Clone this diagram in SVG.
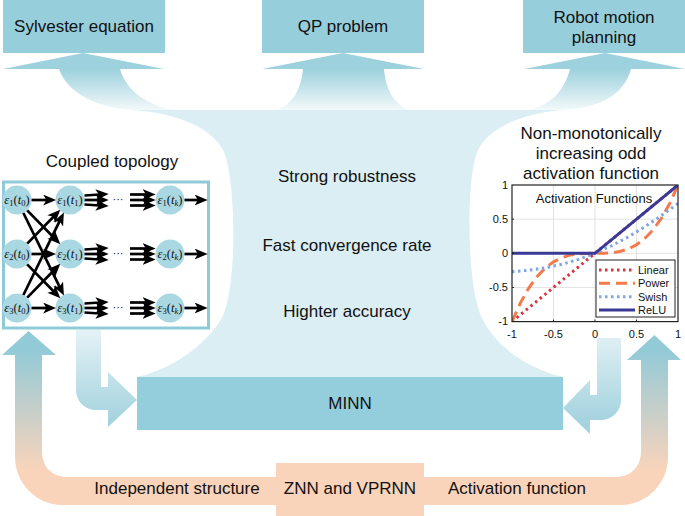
<svg xmlns="http://www.w3.org/2000/svg" width="685" height="516" viewBox="0 0 685 516">
<defs>
<style>
.t{font-family:"Liberation Sans",Arial,sans-serif;font-size:17px;fill:#111;text-anchor:middle}
.nl{font-family:"Liberation Serif","DejaVu Serif",serif;font-size:12.5px;fill:#111;text-anchor:middle}
.it{font-style:italic}
.sub{font-size:8.5px}
.tk{font-family:"Liberation Sans",Arial,sans-serif;font-size:11px;fill:#111}
.box{fill:#96cedc}
.node{fill:#a9d8e3}
.ar{stroke:#000;stroke-width:2.7;fill:none;marker-end:url(#ah)}
.grid{stroke:#dadada;stroke-width:0.8}
</style>
<marker id="ah" viewBox="0 0 12 10" refX="4" refY="5" markerWidth="13" markerHeight="11" markerUnits="userSpaceOnUse" orient="auto">
<path d="M0,0 L12,5 L0,10 L3,5 Z" fill="#000"/>
</marker>
<linearGradient id="stemG" gradientUnits="userSpaceOnUse" x1="0" y1="69" x2="0" y2="110">
<stop offset="0" stop-color="#9dd1dd"/><stop offset="1" stop-color="#f3f9fa"/>
</linearGradient>
<linearGradient id="loopG" gradientUnits="userSpaceOnUse" x1="0" y1="350" x2="0" y2="470">
<stop offset="0" stop-color="#93cad8"/><stop offset="1" stop-color="#f9d4bb"/>
</linearGradient>
<linearGradient id="sideG" gradientUnits="userSpaceOnUse" x1="0" y1="330" x2="0" y2="420">
<stop offset="0" stop-color="#e4f2f6"/><stop offset="1" stop-color="#a5d3df"/>
</linearGradient>
<clipPath id="plotClip"><rect x="512" y="185" width="166" height="136.6"/></clipPath>
</defs>

<g id="trunk">
<path d="M131,110 L563,110 C535,112 492,122 478,150 C466,175 466,285 482,318 C495,345 525,368 563,377 L137,377 C175,368 205,345 222,318 C238,285 236,175 223,150 C210,125 170,112 131,110 Z" fill="#dbeef4"/>
</g>

<g id="connectors">
<path d="M59,69 L120,69 C127,92 148,106 176,110 L133,110 C100,108 68,95 59,69 Z" fill="url(#stemG)"/>
<path d="M303,69 L384,69 C386,92 396,106 410,110 L276,110 C290,106 301,92 303,69 Z" fill="url(#stemG)"/>
<path d="M570,69 L631,69 C624,95 600,108 563,110 L527,110 C550,106 564,92 570,69 Z" fill="url(#stemG)"/>
<path d="M3,69 L164,69 L83,53 Z" fill="#9dd1dd"/>
<path d="M262,69 L424,69 L343,53 Z" fill="#9dd1dd"/>
<path d="M524,69 L685,69 L605,53 Z" fill="#9dd1dd"/>
<path d="M76,330 L101,330 L101,387 L108,387 L108,372 L137,400 L108,427 L108,410 L96,410 C85,410 76,401 76,390 Z" fill="url(#sideG)"/>
<path d="M621,338 L597,338 L597,395 L590,395 L590,380 L563,408 L590,434 L590,420 L601,420 C612,420 621,411 621,400 Z" fill="url(#sideG)"/>
<path d="M276,477 L68,477 C52,477 42,467 42,451 L42,355 L56,355 L28.5,331 L2,355 L15,355 L15,457 C15,483 36,505 62,505 L276,505 Z" fill="url(#loopG)"/>
<path d="M424,477 L615,477 C631,477 641,467 641,451 L641,360 L627,360 L654.5,335 L681,360 L668,360 L668,457 C668,483 647,505 621,505 L424,505 Z" fill="url(#loopG)"/>
</g>

<g id="sylvester"><rect class="box" x="3" y="0" width="162" height="53"/><text class="t" x="84" y="32">Sylvester equation</text></g>
<g id="qp"><rect class="box" x="262" y="0" width="162" height="53"/><text class="t" x="343" y="32">QP problem</text></g>
<g id="robot"><rect class="box" x="523" y="0" width="162" height="53"/><text class="t" x="604" y="23">Robot motion</text><text class="t" x="604" y="43">planning</text></g>

<g id="properties">
<text class="t" x="347" y="182">Strong robustness</text>
<text class="t" x="347" y="251">Fast convergence rate</text>
<text class="t" x="347" y="317">Highter accuracy</text>
</g>

<g id="minn"><rect x="137" y="377" width="426" height="53" fill="#94cddb"/><text class="t" x="350" y="409">MINN</text></g>
<g id="znn"><rect x="276" y="463" width="148" height="53" fill="#f9d4bb"/><text class="t" x="350" y="494">ZNN and VPRNN</text></g>
<g id="labels-bottom">
<text class="t" x="177" y="494">Independent structure</text>
<text class="t" x="517" y="494">Activation function</text>
</g>

<g id="coupled">
<text class="t" x="112" y="167">Coupled topology</text>
<rect x="3.5" y="182" width="205" height="146" fill="#fff" stroke="#8fcad8" stroke-width="3"/>
<g id="nodes">
<circle class="node" cx="17" cy="200" r="14.5"/><circle class="node" cx="17" cy="254" r="14.5"/><circle class="node" cx="17" cy="308" r="14.5"/>
<circle class="node" cx="70" cy="200" r="14.5"/><circle class="node" cx="70" cy="254" r="14.5"/><circle class="node" cx="70" cy="308" r="14.5"/>
<circle class="node" cx="170" cy="200" r="14.5"/><circle class="node" cx="170" cy="254" r="14.5"/><circle class="node" cx="170" cy="308" r="14.5"/>
</g>
<g id="topo-arrows">
<line class="ar" x1="31.5" y1="200" x2="47.5" y2="200"/>
<line class="ar" x1="27.2" y1="210.35" x2="54.24" y2="237.94"/>
<line class="ar" x1="23.4" y1="213" x2="60.09" y2="287.8"/>
<line class="ar" x1="27.2" y1="243.65" x2="54.24" y2="216.06"/>
<line class="ar" x1="31.5" y1="254" x2="47.5" y2="254"/>
<line class="ar" x1="27.2" y1="264.35" x2="54.24" y2="291.94"/>
<line class="ar" x1="23.4" y1="295" x2="60.09" y2="220.2"/>
<line class="ar" x1="27.2" y1="297.65" x2="54.24" y2="270.06"/>
<line class="ar" x1="31.5" y1="308" x2="47.5" y2="308"/>
<line class="ar" x1="84.5" y1="195.5" x2="100" y2="194.5"/><line class="ar" x1="84.5" y1="200" x2="100" y2="200"/><line class="ar" x1="84.5" y1="204.5" x2="100" y2="205.5"/>
<line class="ar" x1="84.5" y1="249.5" x2="100" y2="248.5"/><line class="ar" x1="84.5" y1="254" x2="100" y2="254"/><line class="ar" x1="84.5" y1="258.5" x2="100" y2="259.5"/>
<line class="ar" x1="84.5" y1="303.5" x2="100" y2="302.5"/><line class="ar" x1="84.5" y1="308" x2="100" y2="308"/><line class="ar" x1="84.5" y1="312.5" x2="100" y2="313.5"/>
<line class="ar" x1="130" y1="194.5" x2="147" y2="194.5"/><line class="ar" x1="130" y1="200" x2="147" y2="200"/><line class="ar" x1="130" y1="205.5" x2="147" y2="205.5"/>
<line class="ar" x1="130" y1="248.5" x2="147" y2="248.5"/><line class="ar" x1="130" y1="254" x2="147" y2="254"/><line class="ar" x1="130" y1="259.5" x2="147" y2="259.5"/>
<line class="ar" x1="130" y1="302.5" x2="147" y2="302.5"/><line class="ar" x1="130" y1="308" x2="147" y2="308"/><line class="ar" x1="130" y1="313.5" x2="147" y2="313.5"/>
<line class="ar" x1="184.5" y1="200" x2="199" y2="200"/>
<line class="ar" x1="184.5" y1="254" x2="199" y2="254"/>
<line class="ar" x1="184.5" y1="308" x2="199" y2="308"/>
</g>
<text class="tk" x="118" y="203" text-anchor="middle" fill="#444">···</text>
<text class="tk" x="118" y="257" text-anchor="middle" fill="#444">···</text>
<text class="tk" x="118" y="311" text-anchor="middle" fill="#444">···</text>
<g id="node-labels">
<text class="nl" x="17" y="204"><tspan class="it">ε</tspan><tspan class="sub" dy="2">1</tspan><tspan dy="-2">(</tspan><tspan class="it">t</tspan><tspan class="sub" dy="2">0</tspan><tspan dy="-2">)</tspan></text>
<text class="nl" x="17" y="258"><tspan class="it">ε</tspan><tspan class="sub" dy="2">2</tspan><tspan dy="-2">(</tspan><tspan class="it">t</tspan><tspan class="sub" dy="2">0</tspan><tspan dy="-2">)</tspan></text>
<text class="nl" x="17" y="312"><tspan class="it">ε</tspan><tspan class="sub" dy="2">3</tspan><tspan dy="-2">(</tspan><tspan class="it">t</tspan><tspan class="sub" dy="2">0</tspan><tspan dy="-2">)</tspan></text>
<text class="nl" x="70" y="204"><tspan class="it">ε</tspan><tspan class="sub" dy="2">1</tspan><tspan dy="-2">(</tspan><tspan class="it">t</tspan><tspan class="sub" dy="2">1</tspan><tspan dy="-2">)</tspan></text>
<text class="nl" x="70" y="258"><tspan class="it">ε</tspan><tspan class="sub" dy="2">2</tspan><tspan dy="-2">(</tspan><tspan class="it">t</tspan><tspan class="sub" dy="2">1</tspan><tspan dy="-2">)</tspan></text>
<text class="nl" x="70" y="312"><tspan class="it">ε</tspan><tspan class="sub" dy="2">3</tspan><tspan dy="-2">(</tspan><tspan class="it">t</tspan><tspan class="sub" dy="2">1</tspan><tspan dy="-2">)</tspan></text>
<text class="nl" x="170" y="204"><tspan class="it">ε</tspan><tspan class="sub" dy="2">1</tspan><tspan dy="-2">(</tspan><tspan class="it">t</tspan><tspan class="sub it" dy="2">k</tspan><tspan dy="-2">)</tspan></text>
<text class="nl" x="170" y="258"><tspan class="it">ε</tspan><tspan class="sub" dy="2">2</tspan><tspan dy="-2">(</tspan><tspan class="it">t</tspan><tspan class="sub it" dy="2">k</tspan><tspan dy="-2">)</tspan></text>
<text class="nl" x="170" y="312"><tspan class="it">ε</tspan><tspan class="sub" dy="2">3</tspan><tspan dy="-2">(</tspan><tspan class="it">t</tspan><tspan class="sub it" dy="2">k</tspan><tspan dy="-2">)</tspan></text>
</g>
</g>

<g id="activation-plot">
<text class="t" x="591" y="139">Non-monotonically</text>
<text class="t" x="591" y="159">increasing odd</text>
<text class="t" x="591" y="179">activation function</text>
<rect x="512" y="185" width="166" height="136.6" fill="#fff"/>
<g class="grid">
<line x1="553.5" y1="185" x2="553.5" y2="321.6"/><line x1="595" y1="185" x2="595" y2="321.6"/><line x1="636.5" y1="185" x2="636.5" y2="321.6"/>
<line x1="512" y1="219.15" x2="678" y2="219.15"/><line x1="512" y1="253.3" x2="678" y2="253.3"/><line x1="512" y1="287.45" x2="678" y2="287.45"/>
</g>
<text class="t" x="594" y="203" style="font-size:13px">Activation Functions</text>
<g clip-path="url(#plotClip)" fill="none">
<line x1="512" y1="321.6" x2="678" y2="185" stroke="#d6363c" stroke-width="3" stroke-dasharray="2.5 3.5"/>
<polyline points="512,321.6 520.3,303.1 528.6,288.3 536.9,276.7 545.2,268.1 553.5,261.8 561.8,257.7 570.1,255.1 578.4,253.8 586.7,253.4 595,253.3 603.3,253.2 611.6,252.8 619.9,251.5 628.2,248.9 636.5,244.8 644.8,238.5 653.1,229.9 661.4,218.3 669.7,203.5 678,185" stroke="#f47a4b" stroke-width="3" stroke-dasharray="11 6"/>
<polyline points="512,271.7 528.6,270.2 545.2,267.8 561.8,264.3 578.4,259.4 595,253.3 611.6,245.8 628.2,236.9 644.8,226.8 661.4,215.6 678,203.4" stroke="#7ea6e3" stroke-width="3" stroke-dasharray="2.5 3.5"/>
<polyline points="512,253.3 595,253.3 678,185" stroke="#3a3a96" stroke-width="3"/>
</g>
<rect x="512" y="185" width="166" height="136.6" fill="none" stroke="#222" stroke-width="1.2"/>
<g stroke="#222" stroke-width="1">
<line x1="553.5" y1="321.6" x2="553.5" y2="319.6"/><line x1="595" y1="321.6" x2="595" y2="319.6"/><line x1="636.5" y1="321.6" x2="636.5" y2="319.6"/>
<line x1="512" y1="219.15" x2="514" y2="219.15"/><line x1="512" y1="253.3" x2="514" y2="253.3"/><line x1="512" y1="287.45" x2="514" y2="287.45"/>
</g>
<g class="tk" text-anchor="end">
<text x="508" y="189">1</text><text x="508" y="223">0.5</text><text x="508" y="257">0</text><text x="508" y="291">-0.5</text><text x="508" y="325">-1</text>
</g>
<g class="tk" text-anchor="middle">
<text x="512" y="338">-1</text><text x="553.5" y="338">-0.5</text><text x="595" y="338">0</text><text x="636.5" y="338">0.5</text><text x="678" y="338">1</text>
</g>
<g id="legend">
<rect x="596" y="260" width="79" height="57" fill="#fff" stroke="#222" stroke-width="1"/>
<line x1="599" y1="270" x2="635" y2="270" stroke="#d6363c" stroke-width="3" stroke-dasharray="2.5 3.5"/>
<line x1="599" y1="283.3" x2="635" y2="283.3" stroke="#f47a4b" stroke-width="3" stroke-dasharray="11 6"/>
<line x1="599" y1="296.7" x2="635" y2="296.7" stroke="#7ea6e3" stroke-width="3" stroke-dasharray="2.5 3.5"/>
<line x1="599" y1="310" x2="635" y2="310" stroke="#3a3a96" stroke-width="3"/>
<text class="tk" x="638" y="274">Linear</text>
<text class="tk" x="638" y="287.3">Power</text>
<text class="tk" x="638" y="300.7">Swish</text>
<text class="tk" x="638" y="314">ReLU</text>
</g>
</g>
</svg>
